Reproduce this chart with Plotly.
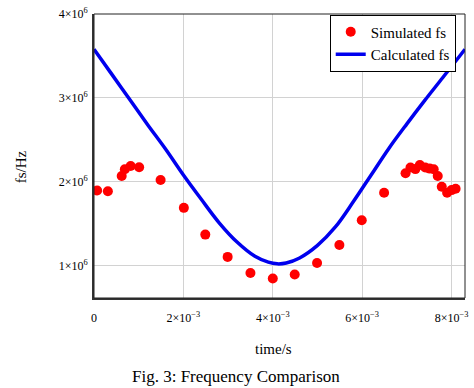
import plotly.graph_objects as go

# Simulated fs (time in ms, frequency in MHz)
sim_t_ms = [0.07, 0.31, 0.62, 0.69, 0.82, 1.01, 1.49, 2.01, 2.49, 2.99, 3.50, 4.00,
            4.49, 4.99, 5.49, 5.99, 6.49, 6.97, 7.08, 7.19, 7.29, 7.41, 7.51, 7.60,
            7.69, 7.78, 7.90, 8.00, 8.09]
sim_f_mhz = [1.895, 1.887, 2.067, 2.149, 2.187, 2.172, 2.02, 1.688, 1.369, 1.103, 0.912, 0.846,
             0.893, 1.03, 1.245, 1.54, 1.868, 2.10, 2.17, 2.15, 2.20, 2.17, 2.156, 2.149,
             2.067, 1.94, 1.868, 1.90, 1.915]

# Calculated fs curve (time in ms, frequency in MHz)
calc_t_ms = [0, 0.4, 0.8, 1.2, 1.6, 2.0, 2.4, 2.8, 3.2, 3.6, 3.9, 4.1, 4.3, 4.6,
             5.0, 5.4, 5.8, 6.2, 6.6, 7.0, 7.4, 7.8, 8.3]
calc_f_mhz = [3.58, 3.28, 2.98, 2.68, 2.39, 2.08, 1.79, 1.51, 1.28, 1.11, 1.04, 1.02, 1.03, 1.09,
              1.24, 1.46, 1.76, 2.08, 2.40, 2.69, 2.97, 3.24, 3.58]

x_tick_vals = [0, 2e-3, 4e-3, 6e-3, 8e-3]
x_tick_text = ["0", "2×10<sup>−3</sup>", "4×10<sup>−3</sup>", "6×10<sup>−3</sup>", "8×10<sup>−3</sup>"]
y_tick_vals = [1e6, 2e6, 3e6, 4e6]
y_tick_text = ["1×10<sup>6</sup>", "2×10<sup>6</sup>", "3×10<sup>6</sup>", "4×10<sup>6</sup>"]

FONT = "Liberation Serif, Times New Roman, serif"

fig = go.Figure()
fig.add_trace(go.Scatter(
    x=[t * 1e-3 for t in sim_t_ms], y=[f * 1e6 for f in sim_f_mhz],
    mode="markers", name="Simulated fs",
    marker=dict(color="#ff0000", size=10, line=dict(width=0)),
))
fig.add_trace(go.Scatter(
    x=[t * 1e-3 for t in calc_t_ms], y=[f * 1e6 for f in calc_f_mhz],
    mode="lines", name="Calculated fs", line=dict(color="#0000ee", width=3.5, shape="spline"),
))

fig.update_layout(
    width=474, height=388,
    margin=dict(l=94, r=6, t=9.5, b=89.5),
    paper_bgcolor="white", plot_bgcolor="white",
    font=dict(family=FONT, color="black", size=12),
    showlegend=True,
    legend=dict(x=0.975, y=0.998, xanchor="right", yanchor="top",
                bordercolor="black", borderwidth=1, bgcolor="white",
                font=dict(family=FONT, size=15, color="black"),
                tracegroupgap=0, itemwidth=30),
    xaxis=dict(range=[0, 8.3e-3], tickvals=x_tick_vals, ticktext=x_tick_text,
               showgrid=True, gridcolor="#d2d2d2", gridwidth=1, zeroline=False,
               showline=True, linecolor="#333333", linewidth=2, mirror=False,
               ticks="", ticklabelstandoff=8, tickfont=dict(size=12, family=FONT)),
    yaxis=dict(range=[0.613e6, 4.0e6], tickvals=y_tick_vals, ticktext=y_tick_text,
               showgrid=True, gridcolor="#d2d2d2", gridwidth=1, zeroline=False,
               showline=True, linecolor="#333333", linewidth=2, mirror=False,
               ticks="", ticklabelstandoff=2, tickfont=dict(size=12, family=FONT)),
)

# thin top/right border
fig.add_shape(type="rect", xref="paper", yref="paper", x0=0, y0=0, x1=1, y1=1,
              line=dict(color="#222222", width=1), layer="above")

fig.add_annotation(text="fs/Hz", xref="paper", yref="paper", x=-0.225, y=0.462,
                   textangle=-90, showarrow=False, font=dict(family=FONT, size=15))
fig.add_annotation(text="time/s", xref="paper", yref="paper", x=0.484, y=-0.18,
                   xanchor="center", yanchor="middle", showarrow=False,
                   font=dict(family=FONT, size=15))
fig.add_annotation(text="Fig. 3: Frequency Comparison", xref="paper", yref="paper",
                   x=0.382, y=-0.275, xanchor="center", yanchor="middle", showarrow=False,
                   font=dict(family=FONT, size=17))

fig.write_html("out.html", config={"displayModeBar": False},
               post_script="document.body.style.margin='0';document.body.style.overflow='hidden';")
